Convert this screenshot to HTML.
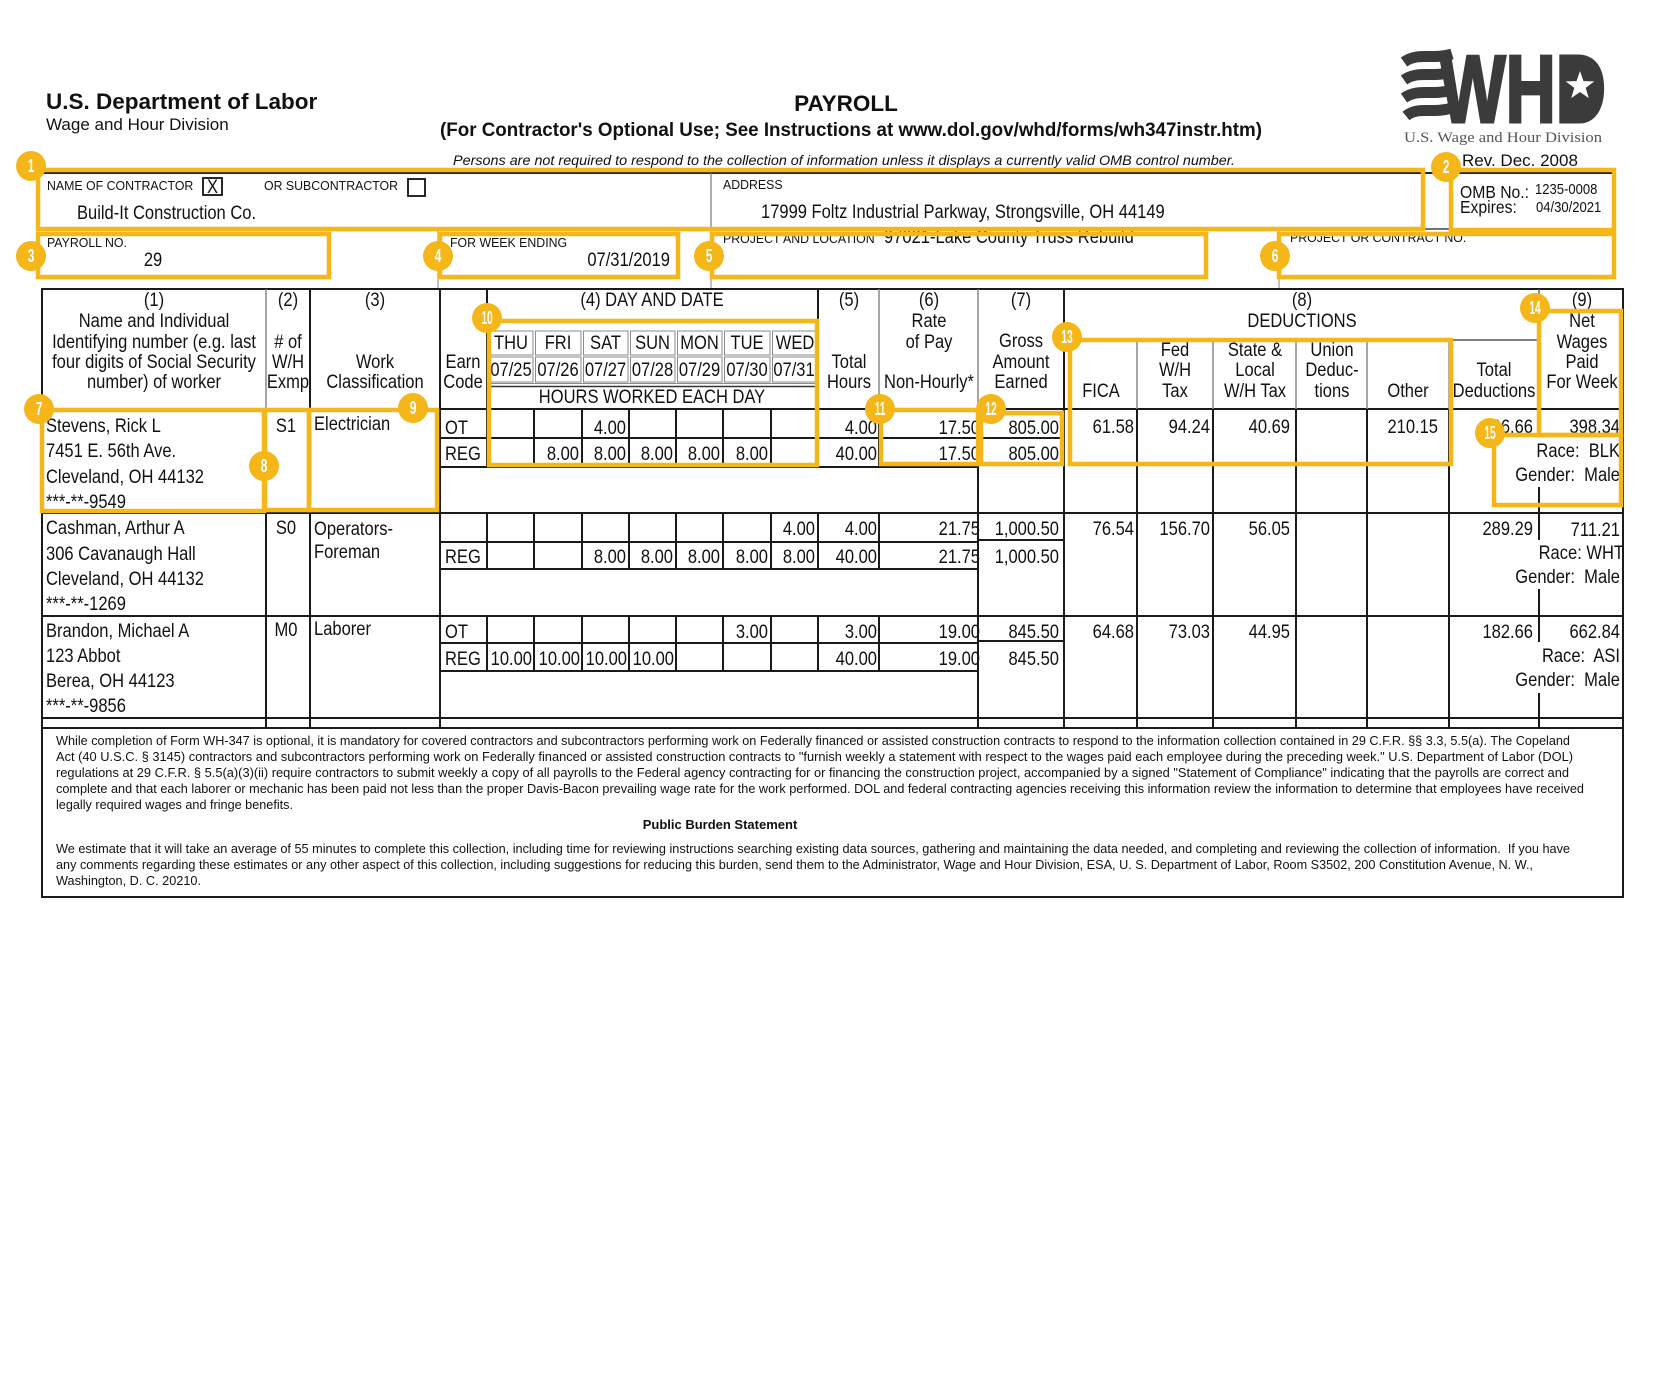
<!DOCTYPE html>
<html><head><meta charset="utf-8"><style>
html,body{margin:0;padding:0;background:#fff;overflow:hidden}
svg{display:block}
.d{font-size:19px;font-family:"Liberation Sans",Arial,sans-serif;fill:#111}
.s{font-size:13px;font-family:"Liberation Sans",Arial,sans-serif;fill:#111}
.f{font-size:13px;font-family:"Liberation Sans",Arial,sans-serif;fill:#111}
.m{text-anchor:middle}.e{text-anchor:end}
.b{font-size:17px;font-weight:bold;font-family:"Liberation Sans",Arial,sans-serif;fill:#fff;text-anchor:middle}
.y{fill:none;stroke:#F5B61A;stroke-width:4.5}
.k{stroke:#1a1a1a;stroke-width:2}
.g{stroke:#888;stroke-width:1.5}
</style></head><body>
<svg xmlns="http://www.w3.org/2000/svg" width="1663" height="1395" viewBox="0 0 1663 1395">
<rect width="1663" height="1395" fill="#fff"/>

<!-- Titles -->
<text x="46" y="109" style="font:bold 22.5px 'Liberation Sans',Arial,sans-serif;fill:#111">U.S. Department of Labor</text>
<text x="46" y="130" style="font:17px 'Liberation Sans',Arial,sans-serif;fill:#111">Wage and Hour Division</text>
<text x="846" y="111" text-anchor="middle" style="font:bold 22.5px 'Liberation Sans',Arial,sans-serif;fill:#111">PAYROLL</text>
<text x="440" y="136" textLength="822" lengthAdjust="spacingAndGlyphs" style="font:bold 19px 'Liberation Sans',Arial,sans-serif;fill:#111">(For Contractor's Optional Use; See Instructions at www.dol.gov/whd/forms/wh347instr.htm)</text>
<text x="453" y="165" textLength="782" lengthAdjust="spacingAndGlyphs" style="font:italic 14px 'Liberation Sans',Arial,sans-serif;fill:#111">Persons are not required to respond to the collection of information unless it displays a currently valid OMB control number.</text>
<text x="1462" y="166" style="font:17px 'Liberation Sans',Arial,sans-serif;fill:#111">Rev. Dec. 2008</text>

<!-- Logo -->
<g fill="none" stroke="#3b3b3b" stroke-width="11">
<path d="M1404,62 C1418,52 1432,60 1452,54"/>
<path d="M1404,80 C1418,70 1432,78 1452,72"/>
<path d="M1404,98 C1418,88 1432,96 1452,90"/>
<path d="M1406,116 C1418,106 1432,114 1452,108"/>
</g>
<text x="1440" y="122" textLength="166" lengthAdjust="spacingAndGlyphs" stroke="#3b3b3b" stroke-width="3" style="font:bold 96px 'Liberation Sans',Arial,sans-serif;fill:#3b3b3b">WHD</text>
<rect x="1562" y="62" width="32" height="54" rx="8" fill="#3b3b3b"/>
<polygon fill="#fff" points="1580,71 1583.5,81.1 1594.3,81.4 1585.7,87.9 1588.8,98.1 1580,92 1571.2,98.1 1574.3,87.9 1565.7,81.4 1576.5,81.1"/>
<text x="1404" y="142" textLength="198" lengthAdjust="spacingAndGlyphs" style="font:15px 'Liberation Serif','DejaVu Serif',serif;fill:#555">U.S. Wage and Hour Division</text>

<!-- Header form lines -->
<line x1="42" y1="173" x2="1616" y2="173" stroke="#222" stroke-width="2"/>
<line x1="711" y1="173" x2="711" y2="229" stroke="#777" stroke-width="1.2"/>
<line x1="42" y1="229" x2="1616" y2="229" stroke="#444" stroke-width="1.5"/>
<line x1="438" y1="229" x2="438" y2="289" stroke="#999" stroke-width="1.2"/>
<line x1="711" y1="229" x2="711" y2="289" stroke="#999" stroke-width="1.2"/>
<line x1="1279" y1="229" x2="1279" y2="289" stroke="#999" stroke-width="1.2"/>

<!-- Header form text -->
<text class="s" transform="translate(47 190) scale(.95 1)">NAME OF CONTRACTOR</text>
<rect x="203" y="178" width="19" height="17" fill="none" stroke="#111" stroke-width="1.8"/>
<text class="d m" transform="translate(212.5 193) scale(.87 1)">X</text>
<text class="s" transform="translate(264 190) scale(.95 1)">OR SUBCONTRACTOR</text>
<rect x="408" y="179" width="17" height="17" fill="none" stroke="#111" stroke-width="1.8"/>
<text class="d" transform="translate(77 219) scale(.87 1)">Build-It Construction Co.</text>
<text class="s" transform="translate(723 189) scale(.95 1)">ADDRESS</text>
<text class="d" transform="translate(761 218) scale(.87 1)">17999 Foltz Industrial Parkway, Strongsville, OH 44149</text>
<text class="d" transform="translate(1460 198) scale(.9 1)" style="font-size:17.5px">OMB No.:</text>
<text class="s" transform="translate(1535 194) scale(.9 1)" style="font-size:14.5px">1235-0008</text>
<text class="d" transform="translate(1460 213) scale(.9 1)" style="font-size:17.5px">Expires:</text>
<text class="s" transform="translate(1536 212) scale(.9 1)" style="font-size:14.5px">04/30/2021</text>
<text class="s" transform="translate(47 247) scale(.95 1)">PAYROLL NO.</text>
<text class="d m" transform="translate(153 266) scale(.87 1)">29</text>
<text class="s" transform="translate(450 247) scale(.95 1)">FOR WEEK ENDING</text>
<text class="d e" transform="translate(670 266) scale(.87 1)">07/31/2019</text>
<text class="s" transform="translate(723 243) scale(.95 1)">PROJECT AND LOCATION</text>
<text class="d" transform="translate(884 243) scale(.87 1)">97021-Lake County Truss Rebuild</text>
<text class="s" transform="translate(1290 242) scale(.95 1)">PROJECT OR CONTRACT NO.</text>

<!-- Table header text -->
<g>
<text class="d m" transform="translate(154 306) scale(.87 1)">(1)</text>
<text class="d m" transform="translate(154 327) scale(.87 1)">Name and Individual</text>
<text class="d m" transform="translate(154 348) scale(.87 1)">Identifying number (e.g. last</text>
<text class="d m" transform="translate(154 368) scale(.87 1)">four digits of Social Security</text>
<text class="d m" transform="translate(154 388) scale(.87 1)">number) of worker</text>
<text class="d m" transform="translate(288 306) scale(.87 1)">(2)</text>
<text class="d m" transform="translate(288 348) scale(.87 1)"># of</text>
<text class="d m" transform="translate(288 368) scale(.87 1)">W/H</text>
<text class="d m" transform="translate(288 388) scale(.87 1)">Exmp</text>
<text class="d m" transform="translate(375 306) scale(.87 1)">(3)</text>
<text class="d m" transform="translate(375 368) scale(.87 1)">Work</text>
<text class="d m" transform="translate(375 388) scale(.87 1)">Classification</text>
<text class="d m" transform="translate(463 368) scale(.87 1)">Earn</text>
<text class="d m" transform="translate(463 388) scale(.87 1)">Code</text>
<text class="d m" transform="translate(652 306) scale(.87 1)">(4) DAY AND DATE</text>
<text class="d m" transform="translate(849 306) scale(.87 1)">(5)</text>
<text class="d m" transform="translate(849 368) scale(.87 1)">Total</text>
<text class="d m" transform="translate(849 388) scale(.87 1)">Hours</text>
<text class="d m" transform="translate(929 306) scale(.87 1)">(6)</text>
<text class="d m" transform="translate(929 327) scale(.87 1)">Rate</text>
<text class="d m" transform="translate(929 348) scale(.87 1)">of Pay</text>
<text class="d m" transform="translate(929 388) scale(.87 1)">Non-Hourly*</text>
<text class="d m" transform="translate(1021 306) scale(.87 1)">(7)</text>
<text class="d m" transform="translate(1021 347) scale(.87 1)">Gross</text>
<text class="d m" transform="translate(1021 368) scale(.87 1)">Amount</text>
<text class="d m" transform="translate(1021 388) scale(.87 1)">Earned</text>
<text class="d m" transform="translate(1302 306) scale(.87 1)">(8)</text>
<text class="d m" transform="translate(1302 327) scale(.87 1)">DEDUCTIONS</text>
<text class="d m" transform="translate(1101 397) scale(.87 1)">FICA</text>
<text class="d m" transform="translate(1175 356) scale(.87 1)">Fed</text>
<text class="d m" transform="translate(1175 376) scale(.87 1)">W/H</text>
<text class="d m" transform="translate(1175 397) scale(.87 1)">Tax</text>
<text class="d m" transform="translate(1255 356) scale(.87 1)">State &amp;</text>
<text class="d m" transform="translate(1255 376) scale(.87 1)">Local</text>
<text class="d m" transform="translate(1255 397) scale(.87 1)">W/H Tax</text>
<text class="d m" transform="translate(1332 356) scale(.87 1)">Union</text>
<text class="d m" transform="translate(1332 376) scale(.87 1)">Deduc-</text>
<text class="d m" transform="translate(1332 397) scale(.87 1)">tions</text>
<text class="d m" transform="translate(1408 397) scale(.87 1)">Other</text>
<text class="d m" transform="translate(1494 376) scale(.87 1)">Total</text>
<text class="d m" transform="translate(1494 397) scale(.87 1)">Deductions</text>
<text class="d m" transform="translate(1582 306) scale(.87 1)">(9)</text>
<text class="d m" transform="translate(1582 327) scale(.87 1)">Net</text>
<text class="d m" transform="translate(1582 348) scale(.87 1)">Wages</text>
<text class="d m" transform="translate(1582 368) scale(.87 1)">Paid</text>
<text class="d m" transform="translate(1582 388) scale(.87 1)">For Week</text>
</g>

<!-- day/date cells -->
<g fill="none" stroke="#8a8a8a" stroke-width="1">
<rect x="489.5" y="331" width="43.5" height="24"/><rect x="535.5" y="331" width="45.5" height="24"/><rect x="583.5" y="331" width="44.5" height="24"/><rect x="630.5" y="331" width="44.5" height="24"/><rect x="677.5" y="331" width="44.5" height="24"/><rect x="724.5" y="331" width="45.5" height="24"/><rect x="772.5" y="331" width="43.5" height="24"/>
<rect x="489.5" y="357" width="43.5" height="25"/><rect x="535.5" y="357" width="45.5" height="25"/><rect x="583.5" y="357" width="44.5" height="25"/><rect x="630.5" y="357" width="44.5" height="25"/><rect x="677.5" y="357" width="44.5" height="25"/><rect x="724.5" y="357" width="45.5" height="25"/><rect x="772.5" y="357" width="43.5" height="25"/>
<line x1="489" y1="383.5" x2="816" y2="383.5"/>
</g>
<line x1="489" y1="386.5" x2="816" y2="386.5" stroke="#333" stroke-width="1.5"/>
<g>
<text class="d m" transform="translate(511 349) scale(.87 1)">THU</text>
<text class="d m" transform="translate(558 349) scale(.87 1)">FRI</text>
<text class="d m" transform="translate(605.5 349) scale(.87 1)">SAT</text>
<text class="d m" transform="translate(652.5 349) scale(.87 1)">SUN</text>
<text class="d m" transform="translate(699.5 349) scale(.87 1)">MON</text>
<text class="d m" transform="translate(747 349) scale(.87 1)">TUE</text>
<text class="d m" transform="translate(795 349) scale(.87 1)">WED</text>
<text class="d m" transform="translate(511 376) scale(.87 1)">07/25</text>
<text class="d m" transform="translate(558 376) scale(.87 1)">07/26</text>
<text class="d m" transform="translate(605.5 376) scale(.87 1)">07/27</text>
<text class="d m" transform="translate(652.5 376) scale(.87 1)">07/28</text>
<text class="d m" transform="translate(699.5 376) scale(.87 1)">07/29</text>
<text class="d m" transform="translate(747 376) scale(.87 1)">07/30</text>
<text class="d m" transform="translate(794 376) scale(.87 1)">07/31</text>
<text class="d m" transform="translate(652 403) scale(.87 1)">HOURS WORKED EACH DAY</text>
</g>

<!-- Data text row 1 -->
<g>
<text class="d" transform="translate(46 432) scale(.87 1)">Stevens, Rick L</text>
<text class="d" transform="translate(46 457) scale(.87 1)">7451 E. 56th Ave.</text>
<text class="d" transform="translate(46 483) scale(.87 1)">Cleveland, OH 44132</text>
<text class="d" transform="translate(46 508) scale(.87 1)">***-**-9549</text>
<text class="d m" transform="translate(286 432) scale(.87 1)">S1</text>
<text class="d" transform="translate(314 430) scale(.87 1)">Electrician</text>
<text class="d" transform="translate(445 434) scale(.87 1)">OT</text>
<text class="d" transform="translate(445 460) scale(.87 1)">REG</text>
<text class="d e" transform="translate(626 434) scale(.87 1)">4.00</text>
<text class="d e" transform="translate(579 460) scale(.87 1)">8.00</text>
<text class="d e" transform="translate(626 460) scale(.87 1)">8.00</text>
<text class="d e" transform="translate(673 460) scale(.87 1)">8.00</text>
<text class="d e" transform="translate(720 460) scale(.87 1)">8.00</text>
<text class="d e" transform="translate(768 460) scale(.87 1)">8.00</text>
<text class="d e" transform="translate(877 434) scale(.87 1)">4.00</text>
<text class="d e" transform="translate(877 460) scale(.87 1)">40.00</text>
<text class="d e" transform="translate(980 434) scale(.87 1)">17.50</text>
<text class="d e" transform="translate(980 460) scale(.87 1)">17.50</text>
<text class="d e" transform="translate(1059 434) scale(.87 1)">805.00</text>
<text class="d e" transform="translate(1059 460) scale(.87 1)">805.00</text>
<text class="d e" transform="translate(1134 433) scale(.87 1)">61.58</text>
<text class="d e" transform="translate(1210 433) scale(.87 1)">94.24</text>
<text class="d e" transform="translate(1290 433) scale(.87 1)">40.69</text>
<text class="d e" transform="translate(1438 433) scale(.87 1)">210.15</text>
<text class="d e" transform="translate(1533 433) scale(.87 1)">406.66</text>
<text class="d e" transform="translate(1620 433) scale(.87 1)">398.34</text>
<text class="d e" transform="translate(1620 457) scale(.87 1)">Race:&#160; BLK</text>
<text class="d e" transform="translate(1620 481) scale(.87 1)">Gender:&#160; Male</text>
</g>
<!-- row 2 -->
<g>
<text class="d" transform="translate(46 534) scale(.87 1)">Cashman, Arthur A</text>
<text class="d" transform="translate(46 560) scale(.87 1)">306 Cavanaugh Hall</text>
<text class="d" transform="translate(46 585) scale(.87 1)">Cleveland, OH 44132</text>
<text class="d" transform="translate(46 610) scale(.87 1)">***-**-1269</text>
<text class="d m" transform="translate(286 534) scale(.87 1)">S0</text>
<text class="d" transform="translate(314 535) scale(.87 1)">Operators-</text>
<text class="d" transform="translate(314 558) scale(.87 1)">Foreman</text>
<text class="d" transform="translate(445 563) scale(.87 1)">REG</text>
<text class="d e" transform="translate(815 535) scale(.87 1)">4.00</text>
<text class="d e" transform="translate(626 563) scale(.87 1)">8.00</text>
<text class="d e" transform="translate(673 563) scale(.87 1)">8.00</text>
<text class="d e" transform="translate(720 563) scale(.87 1)">8.00</text>
<text class="d e" transform="translate(768 563) scale(.87 1)">8.00</text>
<text class="d e" transform="translate(815 563) scale(.87 1)">8.00</text>
<text class="d e" transform="translate(877 535) scale(.87 1)">4.00</text>
<text class="d e" transform="translate(877 563) scale(.87 1)">40.00</text>
<text class="d e" transform="translate(980 535) scale(.87 1)">21.75</text>
<text class="d e" transform="translate(980 563) scale(.87 1)">21.75</text>
<text class="d e" transform="translate(1059 535) scale(.87 1)">1,000.50</text>
<text class="d e" transform="translate(1059 563) scale(.87 1)">1,000.50</text>
<text class="d e" transform="translate(1134 535) scale(.87 1)">76.54</text>
<text class="d e" transform="translate(1210 535) scale(.87 1)">156.70</text>
<text class="d e" transform="translate(1290 535) scale(.87 1)">56.05</text>
<text class="d e" transform="translate(1533 535) scale(.87 1)">289.29</text>
<text class="d e" transform="translate(1620 536) scale(.87 1)">711.21</text>
<text class="d e" transform="translate(1624 559) scale(.87 1)">Race: WHT</text>
<text class="d e" transform="translate(1620 583) scale(.87 1)">Gender:&#160; Male</text>
</g>
<!-- row 3 -->
<g>
<text class="d" transform="translate(46 637) scale(.87 1)">Brandon, Michael A</text>
<text class="d" transform="translate(46 662) scale(.87 1)">123 Abbot</text>
<text class="d" transform="translate(46 687) scale(.87 1)">Berea, OH 44123</text>
<text class="d" transform="translate(46 712) scale(.87 1)">***-**-9856</text>
<text class="d m" transform="translate(286 636) scale(.87 1)">M0</text>
<text class="d" transform="translate(314 635) scale(.87 1)">Laborer</text>
<text class="d" transform="translate(445 638) scale(.87 1)">OT</text>
<text class="d" transform="translate(445 665) scale(.87 1)">REG</text>
<text class="d e" transform="translate(768 638) scale(.87 1)">3.00</text>
<text class="d e" transform="translate(532 665) scale(.87 1)">10.00</text>
<text class="d e" transform="translate(580 665) scale(.87 1)">10.00</text>
<text class="d e" transform="translate(627 665) scale(.87 1)">10.00</text>
<text class="d e" transform="translate(674 665) scale(.87 1)">10.00</text>
<text class="d e" transform="translate(877 638) scale(.87 1)">3.00</text>
<text class="d e" transform="translate(877 665) scale(.87 1)">40.00</text>
<text class="d e" transform="translate(980 638) scale(.87 1)">19.00</text>
<text class="d e" transform="translate(980 665) scale(.87 1)">19.00</text>
<text class="d e" transform="translate(1059 638) scale(.87 1)">845.50</text>
<text class="d e" transform="translate(1059 665) scale(.87 1)">845.50</text>
<text class="d e" transform="translate(1134 638) scale(.87 1)">64.68</text>
<text class="d e" transform="translate(1210 638) scale(.87 1)">73.03</text>
<text class="d e" transform="translate(1290 638) scale(.87 1)">44.95</text>
<text class="d e" transform="translate(1533 638) scale(.87 1)">182.66</text>
<text class="d e" transform="translate(1620 638) scale(.87 1)">662.84</text>
<text class="d e" transform="translate(1620 662) scale(.87 1)">Race:&#160; ASI</text>
<text class="d e" transform="translate(1620 686) scale(.87 1)">Gender:&#160; Male</text>
</g>

<!-- Table lines -->
<rect x="42" y="289" width="1581" height="608" fill="none" stroke="#1a1a1a" stroke-width="2"/>
<g class="k">
<line x1="42" y1="409" x2="1623" y2="409"/>
<line x1="42" y1="513" x2="1623" y2="513"/>
<line x1="42" y1="616" x2="1623" y2="616"/>
<line x1="42" y1="718" x2="1623" y2="718"/>
<line x1="42" y1="728" x2="1623" y2="728"/>
<line x1="310" y1="289" x2="310" y2="409"/>
<line x1="440" y1="289" x2="440" y2="409"/>
<line x1="487" y1="289" x2="487" y2="409"/>
<line x1="818" y1="289" x2="818" y2="409"/>
<line x1="1064" y1="289" x2="1064" y2="409"/>
<line x1="266" y1="409" x2="266" y2="728"/>
<line x1="310" y1="409" x2="310" y2="728"/>
<line x1="440" y1="409" x2="440" y2="728"/>
<line x1="978" y1="409" x2="978" y2="728"/>
<line x1="1064" y1="409" x2="1064" y2="728"/>
<line x1="1137" y1="409" x2="1137" y2="728"/>
<line x1="1213" y1="409" x2="1213" y2="728"/>
<line x1="1296" y1="409" x2="1296" y2="728"/>
<line x1="1367" y1="409" x2="1367" y2="728"/>
<line x1="1449" y1="409" x2="1449" y2="728"/>
<line x1="1539" y1="409" x2="1539" y2="435"/>
<line x1="1539" y1="487" x2="1539" y2="513"/>
<line x1="1539" y1="513" x2="1539" y2="540"/>
<line x1="1539" y1="589" x2="1539" y2="616"/>
<line x1="1539" y1="616" x2="1539" y2="642"/>
<line x1="1539" y1="693" x2="1539" y2="728"/>
<line x1="440" y1="438" x2="1064" y2="438"/>
<line x1="440" y1="467" x2="978" y2="467"/>
<line x1="440" y1="542" x2="978" y2="542"/>
<line x1="978" y1="540" x2="1064" y2="540"/>
<line x1="440" y1="569" x2="978" y2="569"/>
<line x1="440" y1="643" x2="978" y2="643"/>
<line x1="978" y1="641" x2="1064" y2="641"/>
<line x1="440" y1="671" x2="978" y2="671"/>
</g>
<g class="k">
<path d="M487,409V467M534,409V467M582,409V467M629,409V467M676,409V467M723,409V467M771,409V467M818,409V467M879,409V467"/>
<path d="M487,513V569M534,513V569M582,513V569M629,513V569M676,513V569M723,513V569M771,513V569M818,513V569M879,513V569"/>
<path d="M487,616V671M534,616V671M582,616V671M629,616V671M676,616V671M723,616V671M771,616V671M818,616V671M879,616V671"/>
</g>
<g class="g">
<line x1="266" y1="289" x2="266" y2="409"/>
<line x1="879" y1="289" x2="879" y2="409"/>
<line x1="978" y1="289" x2="978" y2="409"/>
<line x1="1539" y1="289" x2="1539" y2="409" stroke="#666"/>
<line x1="1064" y1="340" x2="1539" y2="340" stroke="#555"/>
<line x1="1137" y1="340" x2="1137" y2="409"/>
<line x1="1213" y1="340" x2="1213" y2="409"/>
<line x1="1296" y1="340" x2="1296" y2="409"/>
<line x1="1367" y1="340" x2="1367" y2="409"/>
<line x1="1449" y1="340" x2="1449" y2="409"/>
</g>

<!-- Footer text -->
<text class="f" x="56" y="745" textLength="1514" lengthAdjust="spacingAndGlyphs">While completion of Form WH-347 is optional, it is mandatory for covered contractors and subcontractors performing work on Federally financed or assisted construction contracts to respond to the information collection contained in 29 C.F.R. §§ 3.3, 5.5(a). The Copeland</text>
<text class="f" x="56" y="761" textLength="1517" lengthAdjust="spacingAndGlyphs">Act (40 U.S.C. § 3145) contractors and subcontractors performing work on Federally financed or assisted construction contracts to "furnish weekly a statement with respect to the wages paid each employee during the preceding week." U.S. Department of Labor (DOL)</text>
<text class="f" x="56" y="777" textLength="1513" lengthAdjust="spacingAndGlyphs">regulations at 29 C.F.R. § 5.5(a)(3)(ii) require contractors to submit weekly a copy of all payrolls to the Federal agency contracting for or financing the construction project, accompanied by a signed "Statement of Compliance" indicating that the payrolls are correct and</text>
<text class="f" x="56" y="793" textLength="1528" lengthAdjust="spacingAndGlyphs">complete and that each laborer or mechanic has been paid not less than the proper Davis-Bacon prevailing wage rate for the work performed. DOL and federal contracting agencies receiving this information review the information to determine that employees have received</text>
<text class="f" x="56" y="809" textLength="237" lengthAdjust="spacingAndGlyphs">legally required wages and fringe benefits.</text>
<text x="720" y="829" text-anchor="middle" style="font:bold 13px 'Liberation Sans',Arial,sans-serif;fill:#111">Public Burden Statement</text>
<text class="f" x="56" y="853" textLength="1514" lengthAdjust="spacingAndGlyphs">We estimate that it will take an average of 55 minutes to complete this collection, including time for reviewing instructions searching existing data sources, gathering and maintaining the data needed, and completing and reviewing the collection of information.&#160; If you have</text>
<text class="f" x="56" y="869" textLength="1477" lengthAdjust="spacingAndGlyphs">any comments regarding these estimates or any other aspect of this collection, including suggestions for reducing this burden, send them to the Administrator, Wage and Hour Division, ESA, U. S. Department of Labor, Room S3502, 200 Constitution Avenue, N. W.,</text>
<text class="f" x="56" y="885" textLength="145" lengthAdjust="spacingAndGlyphs">Washington, D. C. 20210.</text>

<!-- Yellow callout boxes -->
<g class="y">
<rect x="38" y="170" width="1385" height="59"/>
<rect x="1451" y="170" width="163" height="60"/>
<rect x="38" y="234" width="291" height="43"/>
<rect x="440" y="234" width="238" height="43"/>
<rect x="712" y="234" width="494" height="43"/>
<rect x="1279" y="234" width="335" height="43"/>
<rect x="42" y="410" width="222" height="101"/>
<rect x="265" y="410" width="44" height="100"/>
<rect x="309" y="410" width="128" height="100"/>
<rect x="489" y="321" width="328" height="144"/>
<rect x="881" y="410" width="97" height="54"/>
<rect x="981" y="413" width="81" height="51"/>
<rect x="1070" y="340" width="381" height="124"/>
<rect x="1539" y="311" width="82" height="124"/>
<rect x="1494" y="435" width="127" height="70"/>
</g>

<!-- Badges -->
<g fill="#F5B61A">
<circle cx="31" cy="166" r="15"/><circle cx="1446" cy="167" r="15"/><circle cx="31" cy="256" r="15"/><circle cx="438" cy="256" r="15"/><circle cx="709" cy="256" r="15"/><circle cx="1275" cy="256" r="15"/><circle cx="39" cy="409" r="15"/><circle cx="264" cy="466" r="15"/><circle cx="413" cy="408" r="15"/><circle cx="487" cy="318" r="15"/><circle cx="880" cy="409" r="15"/><circle cx="991" cy="409" r="15"/><circle cx="1067" cy="337" r="15"/><circle cx="1535" cy="308" r="15"/><circle cx="1490" cy="433" r="15"/>
</g>
<g>
<text class="b" transform="translate(31 172) scale(.7 1.1)">1</text>
<text class="b" transform="translate(1446 173) scale(.7 1.1)">2</text>
<text class="b" transform="translate(31 262) scale(.7 1.1)">3</text>
<text class="b" transform="translate(438 262) scale(.7 1.1)">4</text>
<text class="b" transform="translate(709 262) scale(.7 1.1)">5</text>
<text class="b" transform="translate(1275 262) scale(.7 1.1)">6</text>
<text class="b" transform="translate(39 415) scale(.7 1.1)">7</text>
<text class="b" transform="translate(264 472) scale(.7 1.1)">8</text>
<text class="b" transform="translate(413 414) scale(.7 1.1)">9</text>
<text class="b" transform="translate(487 324) scale(.6 1.1)">10</text>
<text class="b" transform="translate(880 415) scale(.6 1.1)">11</text>
<text class="b" transform="translate(991 415) scale(.6 1.1)">12</text>
<text class="b" transform="translate(1067 343) scale(.6 1.1)">13</text>
<text class="b" transform="translate(1535 314) scale(.6 1.1)">14</text>
<text class="b" transform="translate(1490 439) scale(.6 1.1)">15</text>
</g>
</svg>
</body></html>
